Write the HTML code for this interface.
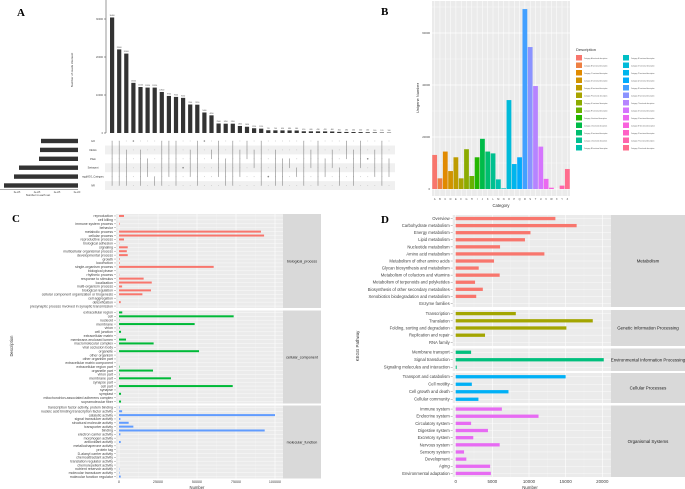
<!DOCTYPE html>
<html><head><meta charset="utf-8"><style>
body{margin:0;background:#fff;width:685px;height:489px;overflow:hidden}
svg{display:block;font-family:"Liberation Sans",sans-serif}
</style></head><body>
<svg id="s" width="685" height="489" viewBox="0 0 685 489"></svg>
<script>
// ---- Panel A data ----
const aInter=[30400,22000,20900,13200,12100,11950,11950,10800,9750,9500,9250,7500,7450,5400,4650,2500,2450,2450,1850,1650,1250,1150,720,700,690,680,660,450,440,430,420,400,300,280,260,240,200,160,120,100];
const aSetNames=["GO","KEGG","Pfam","Swissprot","eggNOG_Category","NR"];
const aSetSizes=[370000,380000,390000,590000,640000,740000];
const aCombos=[[0,5],[0,5],[1,5],[0,0],[1,5],[2,4],[4,5],[0,5],[0,4],[0,5],[3,3],[1,4],[0,5],[0,0],[1,2],[0,4],[2,5],[0,5],[1,4],[0,2],[1,3],[0,5],[4,4],[1,5],[2,5],[2,3],[3,4],[0,5],[1,3],[0,5],[2,4],[1,3],[3,5],[0,2],[1,5],[0,3],[2,2],[1,4],[0,5],[2,4]];
const aYTicks=[0,10000,20000,30000];
// ---- Panel B data ----
const bCats=["A","B","C","D","E","F","G","H","I","J","K","L","M","N","O","P","Q","R","S","T","U","V","W","X","Y","Z"];
const bVals=[13100,4100,14400,6900,12200,4100,15300,5000,12200,19300,14400,13700,3700,260,34200,9600,12200,69200,54600,39600,16300,3900,500,0,1300,7700];
const bTicks=[0,20000,40000,60000];
// ---- Panel C data ----
const cBP=["reproduction","cell killing","immune system process","behavior","metabolic process","cellular process","reproductive process","biological adhesion","signaling","multicellular organismal process","developmental process","growth","locomotion","single-organism process","biological phase","rhythmic process","response to stimulus","localization","multi-organism process","biological regulation","cellular component organization or biogenesis","cell aggregation","detoxification","presynaptic process involved in synaptic transmission"];
const cBPv=[3200,0,400,0,91000,93000,3200,200,5600,5000,5600,400,400,60700,0,200,15800,21000,2000,20500,15000,0,1100,0];
const cCC=["extracellular region","cell","nucleoid","membrane","virion","cell junction","extracellular matrix","membrane-enclosed lumen","macromolecular complex","viral occlusion body","organelle","other organism","other organism part","extracellular matrix component","extracellular region part","organelle part","virion part","membrane part","synapse part","cell part","synapse","symplast","mitochondrion-associated adherens complex","supramolecular fiber"];
const cCCv=[2100,73500,200,48500,300,1300,0,4500,22200,0,51300,0,0,0,300,21800,300,33300,0,72900,0,1300,0,1300];
const cMF=["transcription factor activity, protein binding","nucleic acid binding transcription factor activity","catalytic activity","signal transducer activity","structural molecule activity","transporter activity","binding","electron carrier activity","morphogen activity","antioxidant activity","metallochaperone activity","protein tag","D-alanyl carrier activity","chemoattractant activity","translation regulator activity","chemorepellent activity","nutrient reservoir activity","molecular transducer activity","molecular function regulator"];
const cMFv=[300,2000,100000,900,6200,9200,93400,900,0,1100,0,0,0,0,0,0,200,300,1100];
const cTicks=[0,25000,50000,75000,100000];
// ---- Panel D data ----
const dMet=["Overview","Carbohydrate metabolism","Energy metabolism","Lipid metabolism","Nucleotide metabolism","Amino acid metabolism","Metabolism of other amino acids","Glycan biosynthesis and metabolism","Metabolism of cofactors and vitamins","Metabolism of terpenoids and polyketides","Biosynthesis of other secondary metabolites","Xenobiotics biodegradation and metabolism","Enzyme families"];
const dMetv=[13600,16500,10200,9450,6050,12100,5230,3140,6000,2640,3700,2800,0];
const dGen=["Transcription","Translation","Folding, sorting and degradation","Replication and repair","RNA family"];
const dGenv=[8200,18700,15100,4000,0];
const dEnv=["Membrane transport","Signal transduction","Signaling molecules and interaction"];
const dEnvv=[2100,20200,140];
const dCel=["Transport and catabolism","Cell motility","Cell growth and death","Cellular community"];
const dCelv=[15000,2200,7200,3100];
const dOrg=["Immune system","Endocrine system","Circulatory system","Digestive system","Excretory system","Nervous system","Sensory system","Development","Aging","Environmental adaptation"];
const dOrgv=[6300,11300,2100,4400,2400,6000,1140,1450,4700,4800];
const dTicks=[0,5000,10000,15000,20000];

const S=document.getElementById('s');const NS="http://www.w3.org/2000/svg";
function el(t,a,txt){const e=document.createElementNS(NS,t);for(const k in a)e.setAttribute(k,a[k]);if(txt!==undefined)e.textContent=txt;S.appendChild(e);return e;}
function hue(h){// ggplot-style HCL (polar Luv) c=100 l=65
 const L=65,C=100,hr=h*Math.PI/180;const u=C*Math.cos(hr),v=C*Math.sin(hr);
 const Xn=0.95047,Yn=1,Zn=1.08883;const un=4*Xn/(Xn+15*Yn+3*Zn),vn=9*Yn/(Xn+15*Yn+3*Zn);
 const Y=Yn*Math.pow((L+16)/116,3);const up=u/(13*L)+un,vp=v/(13*L)+vn;
 const X=Y*9*up/(4*vp),Z=Y*(12-3*up-20*vp)/(4*vp);
 let r=3.2406*X-1.5372*Y-0.4986*Z,g=-0.9689*X+1.8758*Y+0.0415*Z,b=0.0557*X-0.2040*Y+1.0570*Z;
 const f=c=>{c=c<=0.0031308?12.92*c:1.055*Math.pow(c,1/2.4)-0.055;return Math.round(Math.max(0,Math.min(1,c))*255);};
 return `rgb(${f(r)},${f(g)},${f(b)})`;}

// ===== Panel A =====
let t=el('text',{x:17,y:16,'font-size':11,'font-weight':'bold','font-family':'Liberation Serif, serif'},'A');

const aY=v=>133-v*38/10000, aX=i=>110+i*7.1;
let ax=el('line',{x1:106,y1:0,x2:106,y2:133,stroke:'#333','stroke-width':0.5});

aYTicks.forEach(v=>{el('line',{x1:104,x2:106,y1:aY(v),y2:aY(v),stroke:'#333','stroke-width':0.5});
 let l=el('text',{x:103,y:aY(v)+1,'font-size':2.5,'text-anchor':'end',fill:'#444'},v);});
t=el('text',{x:73,y:70,'font-size':3,'text-anchor':'middle',fill:'#333',transform:'rotate(-90 73 70)'},'Number of reads intersect');

aInter.forEach((v,i)=>{let r=el('rect',{x:aX(i),y:aY(v),width:4.2,height:133-aY(v),fill:'#333'});
 
 el('text',{x:aX(i)+2.1,y:aY(v)-1.5,'font-size':1.8,'text-anchor':'middle',fill:'#444'},v);});
const rowY=j=>141+j*8.9;
for(let j=0;j<6;j++){if(j%2==1){el('rect',{x:105,y:rowY(j)-4.4,width:290,height:8.9,fill:'#f0f0f0'});}}
aSetNames.forEach((n,j)=>{let l=el('text',{x:93,y:rowY(j)+1,'font-size':2.5,'text-anchor':'middle',fill:'#333'},n);
 
 const len=aSetSizes[j]/200000*20;let r=el('rect',{x:78-len,y:rowY(j)-2.2,width:len,height:4.4,fill:'#333'});
 });
aInter.forEach((v,i)=>{for(let j=0;j<6;j++)el('circle',{cx:aX(i)+2.1,cy:rowY(j),r:0.5,fill:'#ccc'});
 const c=aCombos[i];if(c[1]>c[0]){let ln=el('line',{x1:aX(i)+2.1,x2:aX(i)+2.1,y1:rowY(c[0]),y2:rowY(c[1]),stroke:'#888','stroke-width':0.6});}
 else el('circle',{cx:aX(i)+2.1,cy:rowY(c[0]),r:0.8,fill:'#888'});});
el('line',{x1:0,x2:78,y1:189.5,y2:189.5,stroke:'#333','stroke-width':0.4});
["6e+05","4e+05","2e+05","0e+00"].forEach((s,k)=>{el('text',{x:17+k*20,y:193,'font-size':2.3,'text-anchor':'middle',fill:'#444'},s);});
el('text',{x:38,y:196,'font-size':2.8,'text-anchor':'middle',fill:'#333'},'Number in each set');

// ===== Panel B =====
t=el('text',{x:381,y:15,'font-size':11,'font-weight':'bold','font-family':'Liberation Serif, serif'},'B');

const bx0=432,bx1=570,by0=1,by1=196;const bY=v=>189-v*52/20000;
let bg=el('rect',{x:bx0,y:by0,width:bx1-bx0,height:by1-by0,fill:'#ebebeb'});
[10000,30000,50000,70000].forEach(v=>el('line',{x1:bx0,x2:bx1,y1:bY(v),y2:bY(v),stroke:'#f7f7f7','stroke-width':0.4}));
bTicks.forEach(v=>{el('line',{x1:bx0,x2:bx1,y1:bY(v),y2:bY(v),stroke:'#fff','stroke-width':0.7});
 let l=el('text',{x:bx0-2,y:bY(v)+1,'font-size':2.8,'text-anchor':'end',fill:'#444'},v);});
const bw=(bx1-bx0)/bCats.length;
bCats.forEach((c,i)=>{const cx=bx0+bw*(i+0.5);el('line',{x1:cx,x2:cx,y1:by0,y2:by1,stroke:'#fff','stroke-width':0.5});
 let r=el('rect',{x:cx-bw*0.45,y:bY(bVals[i]),width:bw*0.9,height:189-bY(bVals[i]),fill:hue(15+i*360/bCats.length)});
 
 el('text',{x:cx,y:200,'font-size':2.5,'text-anchor':'middle',fill:'#444'},c);});
t=el('text',{x:419,y:98,'font-size':4,'text-anchor':'middle',fill:'#333',transform:'rotate(-90 419 98)'},'Unigene Number');
t=el('text',{x:501,y:207,'font-size':4.2,'text-anchor':'middle',fill:'#333'},'Category');
t=el('text',{x:576,y:51,'font-size':4,fill:'#333'},'Description');
bCats.forEach((c,i)=>{const col=i<13?0:1,row=i%13;const lx=576+col*47,ly=55+row*7.5;
 let r=el('rect',{x:lx,y:ly,width:6,height:5.5,fill:hue(15+i*360/bCats.length)});
 el('text',{x:lx+8,y:ly+3.8,'font-size':1.6,fill:'#555'},'Category '+c+' functional description');});

// ===== Facet helper =====
function facetPanel(groups,x0,x1,strip1,tickArr,maxV,colors,fs,bh,tickY){
 const sc=v=>x0+3+v*(x1-x0-8)/maxV;
 groups.forEach((g,gi)=>{const [names,vals,y0,y1,title]=g;
  let r=el('rect',{x:x0,y:y0,width:x1-x0,height:y1-y0,fill:'#ebebeb'});
  let st=el('rect',{x:x1,y:y0,width:strip1-x1,height:y1-y0,fill:'#d9d9d9'});
  let tt=el('text',{x:(x1+strip1)/2,y:(y0+y1)/2+1.5,'font-size':fs*1.05,'text-anchor':'middle',fill:'#222'},title);
  for(let k=0;k<tickArr.length;k++){const v=tickArr[k];el('line',{x1:sc(v),x2:sc(v),y1:y0,y2:y1,stroke:'#fff','stroke-width':0.6});
   if(k<tickArr.length-1){const m=(v+tickArr[k+1])/2;el('line',{x1:sc(m),x2:sc(m),y1:y0,y2:y1,stroke:'#f5f5f5','stroke-width':0.3});}}
  const n=names.length,step=(y1-y0)/n;
  names.forEach((nm,i)=>{const cy=y0+step*(i+0.5);el('line',{x1:x0,x2:x1,y1:cy,y2:cy,stroke:'#fff','stroke-width':0.4});
   let l=el('text',{x:x0-3,y:cy+fs*0.35,'font-size':fs,'text-anchor':'end',fill:'#444'},nm);
   el('line',{x1:x0-2,x2:x0,y1:cy,y2:cy,stroke:'#444','stroke-width':0.3});
   if(vals[i]>0){let b=el('rect',{x:sc(0),y:cy-bh/2,width:sc(vals[i])-sc(0),height:bh,fill:colors[gi]});}});
 });
 tickArr.forEach(v=>{let l=el('text',{x:sc(v),y:tickY,'font-size':fs*1.05,'text-anchor':'middle',fill:'#444'},v);});
}

// ===== Panel C =====
t=el('text',{x:12,y:222,'font-size':11,'font-weight':'bold','font-family':'Liberation Serif, serif'},'C');
facetPanel([[cBP,cBPv,214,308,'biological_process'],[cCC,cCCv,310.5,403.5,'cellular_component'],[cMF,cMFv,405.5,478.5,'molecular_function']],
 119-3,283,321,cTicks,100000*(283-119-5)/(275-119),['#F8766D','#00BA38','#619CFF'],3.5,2,483);
t=el('text',{x:197,y:489,'font-size':4.2,'text-anchor':'middle',fill:'#333'},'Number');
t=el('text',{x:13,y:346,'font-size':4.2,'text-anchor':'middle',fill:'#333',transform:'rotate(-90 13 346)'},'Description');

// ===== Panel D =====
t=el('text',{x:381,y:223,'font-size':11,'font-weight':'bold','font-family':'Liberation Serif, serif'},'D');
facetPanel([[dMet,dMetv,215,307,'Metabolism'],[dGen,dGenv,310,346,'Genetic Information Processing'],[dEnv,dEnvv,348.5,371,'Environmental Information Processing'],[dCel,dCelv,373,403,'Cellular Processes'],[dOrg,dOrgv,405.5,477,'Organismal Systems']],
 452.7,611,685,dTicks,20000*(611-452.7-8)/(602.3-455.7),['#F8766D','#A3A500','#00BF7D','#00B0F6','#E76BF3'],4.2,3.3,483);
t=el('text',{x:530,y:489,'font-size':4.4,'text-anchor':'middle',fill:'#333'},'Number');
t=el('text',{x:359,y:346,'font-size':4.4,'text-anchor':'middle',fill:'#333',transform:'rotate(-90 359 346)'},'KEGG Pathway');
</script>
</body></html>
